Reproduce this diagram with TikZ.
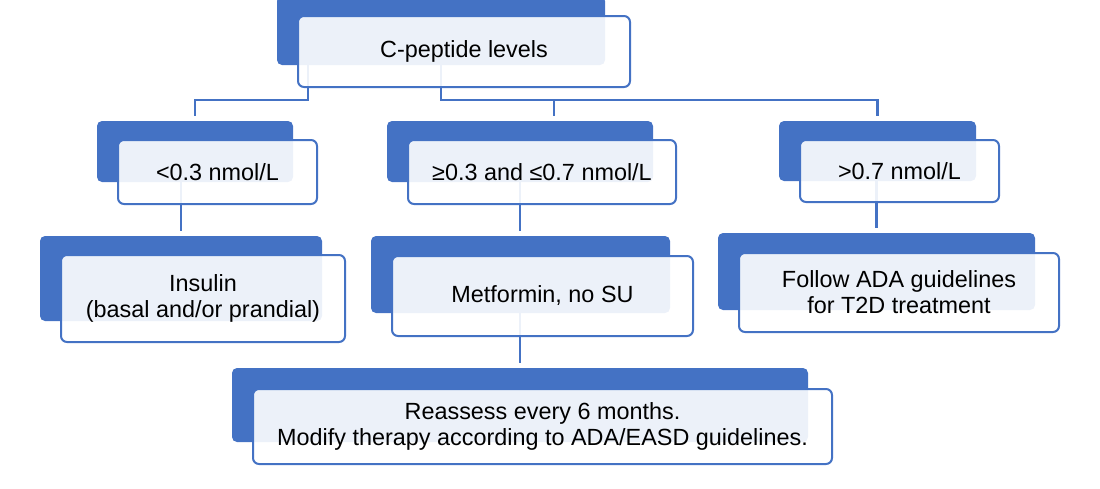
\documentclass[tikz,border=0pt]{standalone}
\usepackage{fontspec}
\setmainfont{Liberation Sans}
\definecolor{accent}{HTML}{4472C4}
\begin{document}
\begin{tikzpicture}[x=1pt,y=-1pt,
  back/.style={fill=accent, rounded corners=5pt, inner sep=0pt},
  front/.style={draw=accent, line width=2pt, fill=white, fill opacity=0.9, text opacity=1, draw opacity=1,
    rounded corners=6pt, inner sep=0pt, align=center, text=black, font=\fontsize{23.4}{26}\selectfont},
  conn/.style={draw=accent, line width=2.2pt, shorten >=5pt}]
\useasboundingbox (0,0) rectangle (1100,488);
\clip (0,0) rectangle (1100,488);
% back panels
\node[back, minimum width=328pt, minimum height=69pt] (Tb) at (441,30.5) {};
\node[back, minimum width=196pt, minimum height=61pt] (Ab) at (195,151.5) {};
\node[back, minimum width=266pt, minimum height=61pt] (Bb) at (520,151.5) {};
\node[back, minimum width=197pt, minimum height=60pt] (Cb) at (877.5,151) {};
\node[back, minimum width=282pt, minimum height=85pt] (Db) at (181,278.5) {};
\node[back, minimum width=299pt, minimum height=77pt] (Eb) at (520.5,274.5) {};
\node[back, minimum width=317pt, minimum height=77pt] (Fb) at (876.5,271.5) {};
\node[back, minimum width=576pt, minimum height=74pt] (Gb) at (520,405) {};
% junction coordinates
\coordinate (bus) at (0,100);
\coordinate (tL) at (308,65);
\coordinate (jB) at (554,100);
% connectors
\draw[conn] (Tb.south) -- (Tb.south |- bus) -| (Cb.north);
\draw[conn] (jB) -- (jB |- Bb.north);
\draw[conn] (tL) -- (tL |- bus) -| (Ab.north);
\draw[conn] (Db.north |- Ab.south) -- (Db.north);
\draw[conn] (Bb.south) -- (Bb.south |- Eb.north);
\draw[conn] (Fb.north |- Cb.south) -- (Fb.north);
\draw[conn] (Gb.north |- Eb.south) -- (Gb.north);
% front panels
\node[front, minimum width=332pt, minimum height=71pt] (T) at (464,51.5) {C-peptide levels};
\node[front, minimum width=199pt, minimum height=64pt] (A) at (217.5,172) {<0.3 nmol/L};
\node[front, minimum width=268pt, minimum height=64pt] (B) at (542,172) {≥0.3 and ≤0.7 nmol/L};
\node[front, minimum width=199pt, minimum height=62pt] (C) at (899.5,171) {>0.7 nmol/L};
\node[front, minimum width=284pt, minimum height=87pt] (D) at (203,298.5) {Insulin\\(basal and/or prandial)};
\node[front, minimum width=301pt, minimum height=80pt] (E) at (542.5,296) {Metformin, no SU};
\node[front, minimum width=320pt, minimum height=79pt] (F) at (899,292.5) {Follow ADA guidelines\\for T2D treatment};
\node[front, minimum width=579pt, minimum height=75pt] (G) at (542.5,426.5) {Reassess every 6 months.\\Modify therapy according to ADA/EASD guidelines.};
\end{tikzpicture}
\end{document}
